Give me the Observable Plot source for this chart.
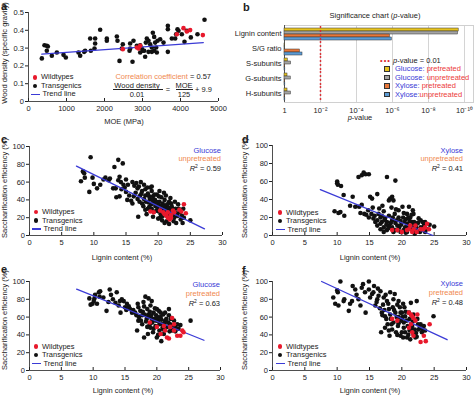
<!DOCTYPE html>
<html><head><meta charset="utf-8">
<script src="https://cdn.jsdelivr.net/npm/d3@7"></script>
<script src="https://cdn.jsdelivr.net/npm/@observablehq/plot@0.6"></script>
<style>
body{margin:0;background:#fff;font-family:"Liberation Sans",Arial,Helvetica,sans-serif;}
#root{position:relative;width:474px;height:395px;overflow:hidden;background:#fff;}
.abs{position:absolute;white-space:nowrap;font-size:7.5px;line-height:1;color:#222;}
svg{position:absolute;}
</style></head><body><div id="root"></div>
<script>
// ---------- DATA ----------
// panel a: MOE (MPa) vs wood density
const aTransgenics = [[351,0.242],[421,0.316],[482,0.313],[509,0.309],[482,0.285],[614,0.257],[746,0.275],[921,0.262],[982,0.247],[1316,0.275],[1360,0.257],[1465,0.279],[1491,0.285],[1623,0.354],[1640,0.285],[1754,0.354],[1754,0.326],[1737,0.298],[1886,0.403],[2061,0.354],[2061,0.341],[2325,0.365],[2342,0.341],[2395,0.228],[2456,0.298],[2482,0.322],[2675,0.326],[2675,0.298],[2658,0.285],[2737,0.223],[2763,0.341],[2851,0.313],[2895,0.303],[2939,0.316],[2982,0.298],[3009,0.285],[3044,0.285],[3070,0.251],[3088,0.331],[3114,0.354],[3158,0.341],[3202,0.322],[3246,0.303],[3246,0.279],[3272,0.386],[3307,0.363],[3333,0.331],[3307,0.285],[3360,0.303],[3377,0.275],[3395,0.341],[3465,0.350],[3553,0.331],[3667,0.425],[3667,0.406],[3667,0.279],[3772,0.354],[3886,0.378],[3921,0.406],[3947,0.397],[4035,0.378],[4105,0.335],[4167,0.397],[4272,0.360],[4447,0.378],[4632,0.459],[3860,0.354],[2939,0.275],[3158,0.279]];
const aWildtypes = [[2482,0.294],[2851,0.303],[2895,0.298],[2939,0.313],[3904,0.378],[4079,0.412],[4167,0.393],[4254,0.401],[4588,0.373]];
const aTrend = [[350,0.266],[4600,0.331]];
const aXTicks = [0,1000,2000,3000,4000,5000];
const aYTicks = [0,0.1,0.2,0.3,0.4,0.5];

// panel b: p-values
const bCategories = ["Lignin content","S/G ratio","S-subunits","G-subunits","H-subunits"];
const bSeries = ["Glucose: pretreated","Glucose: unpretreated","Xylose: pretreated","Xylose:unpretreated"];
const bColors = ["#e6c21f","#a3a3a3","#e8773a","#5b9bd5"];
const bGlucosePre   = [2.1e-10, 0.96, 0.66, 0.68, 0.68];
const bGlucoseUnpre = [2.3e-10, 0.96, 0.43, 0.45, 0.44];
const bXylosePre    = [1.4e-6, 0.14, 0.94, 0.93, 0.95];
const bXyloseUnpre  = [1.1e-6, 0.10, 0.90, 0.90, 0.90];
const bThreshold = 0.01;
const bTicks = [1,1e-2,1e-4,1e-6,1e-8,1e-10];

// panels c-f: lignin content vs saccharification efficiency
const cTransgenics = [[8.0,61],[8.3,72],[8.5,70],[8.6,65],[9.3,49],[9.5,88],[9.8,65],[10.0,58],[10.5,53],[11.5,63],[11.8,65],[12.3,62],[13.0,53],[13.2,77],[13.4,53],[13.5,43],[13.8,62],[13.8,85],[14.0,66],[14.2,60],[14.5,81],[14.3,52],[14.8,54],[14.6,57],[15.0,63],[15.0,49],[15.5,45],[15.2,40],[16.0,36],[16.3,56],[16.6,59],[16.8,53],[17.0,55],[17.2,45],[16.9,21],[17.5,50],[17.8,57],[18.0,45],[18.3,54],[18.5,37],[18.8,54],[19.0,50],[19.2,44],[18.0,29],[18.2,24],[18.6,32],[19.5,40],[19.8,46],[19.4,27],[20.0,35],[20.2,38],[20.5,43],[20.6,30],[20.8,25],[20.3,20],[21.0,40],[21.2,33],[21.5,28],[21.3,16],[21.8,24],[22.0,36],[22.2,30],[22.5,20],[22.8,14],[23.0,22],[23.2,30],[23.5,18],[23.8,14],[25.0,17],[24.0,20],[21.0,14],[20.0,19],[19.8,28],[17.5,36],[18.7,41],[19.3,36],[20.5,33],[21.7,38],[22.3,27],[20.7,22],[19.0,30],[17.8,41],[16.5,48],[15.8,39],[22.6,38],[21.9,42],[20.9,48],[19.6,33],[18.4,47],[23.4,26],
  [16.2,44],[16.8,41],[17.1,38],[17.4,47],[17.7,33],[18.1,38],[18.4,30],[18.9,35],[19.1,40],[19.4,46],[19.7,38],[19.9,31],[20.1,27],[20.4,24],[20.7,36],[20.9,33],[21.1,29],[21.4,35],[21.6,31],[21.9,28],[22.1,33],[22.4,24],[22.7,30],[22.9,25],[23.1,35],[23.7,22],[21.2,45],[20.2,50],[19.0,55],[18.0,52],[17.3,60],[16.0,60],[15.3,57],[14.0,44],[12.5,64],[11.0,57],[20.6,17],[19.2,21],[22.4,16],[21.7,13],[23.9,30],[20.1,44],[18.6,44]];
const cWildtypes = [[18.8,27],[19.3,26],[20.3,28],[21.0,24],[21.3,22],[21.5,20],[21.8,18],[22.0,23],[22.3,28],[22.5,26],[23.3,29],[23.6,27],[24.0,35],[24.3,25],[21.5,26],[20.8,26],[22.0,20]];
const cTrend = [[7.3,78],[27.2,7.5]];

const dTransgenics = [[9.6,27],[10.0,60],[10.0,58],[10.1,56.5],[10.2,25],[10.6,55],[11.0,45],[11.1,22],[10.5,26],[12.0,33],[12.4,43],[12.8,32],[13.3,65],[13.8,67],[14.1,70],[14.4,68],[14.9,68],[13.4,32],[13.6,25],[13.8,34],[14.2,24],[14.5,23],[14.9,20],[15.1,43],[15.4,41],[16.2,46],[15.6,19],[16.2,17],[16.7,20],[16.9,15],[17.2,27],[17.4,19],[17.7,65],[18.0,39],[18.2,41],[18.5,43],[19.0,61],[18.7,39],[18.0,22],[18.5,17],[19.0,14],[19.3,11],[19.5,20],[19.8,16],[20.1,32],[20.4,15],[20.5,9],[20.8,13],[21.1,32],[21.3,20],[21.6,15],[21.6,7],[21.8,11],[22.1,6],[22.3,13],[22.6,19],[22.9,9],[23.1,6],[23.4,11],[23.9,7],[25.0,10],[16.7,7],[17.2,4],[17.7,6],[18.0,11],[18.7,4],[19.3,6],[19.8,4],[20.3,6],[20.8,4],[18.5,9],[17.7,15],[16.7,13],[19.5,28],[20.8,24],[21.8,24],[22.9,17],[23.6,15],[17.2,9],[16.2,11],[15.9,15],
  [15.3,24],[15.8,22],[16.4,24],[16.9,22],[17.3,17],[17.6,12],[17.9,8],[18.3,14],[18.6,20],[18.9,24],[19.2,17],[19.6,9],[19.9,12],[20.2,20],[20.6,18],[20.9,10],[21.2,16],[21.5,23],[21.9,15],[22.2,9],[22.5,14],[22.8,4],[23.2,15],[23.6,4],[24.3,12],[19.1,29],[20.3,25],[21.7,28],[18.4,31],[17.0,33],[16.5,30],[14.8,28],[15.5,31],[20.6,3],[22.0,2],[21.0,20],[19.0,6]];
const dWildtypes = [[18.5,6],[19.3,6],[20.8,6],[21.3,11],[21.6,4],[21.8,7],[22.1,11],[22.3,4],[22.9,7],[23.3,7],[23.6,9],[23.9,13],[24.2,7],[21.1,7],[20.0,4]];
const dTrend = [[7.4,51],[24.8,0]];

const eTransgenics = [[9.4,81],[9.6,74],[9.9,75],[10.1,78],[10.2,81],[10.3,85],[10.6,75],[10.9,88],[11.0,83],[11.1,89],[12.1,67],[12.4,77],[12.6,91],[13.1,80],[13.5,76],[13.7,88],[14.0,73],[14.3,65],[14.5,80],[14.8,78],[15.0,71],[15.3,75],[15.8,69],[16.1,65],[16.6,65],[16.9,45],[17.1,71],[17.4,67],[17.7,62],[17.9,77],[18.0,37],[18.2,83],[18.4,58],[18.5,69],[18.6,41],[18.7,63],[18.9,52],[19.0,73],[19.2,58],[19.4,43],[19.5,65],[19.8,50],[19.9,62],[20.0,37],[20.2,56],[20.3,67],[20.4,45],[20.6,60],[20.7,33],[20.8,52],[21.0,63],[21.1,41],[21.3,56],[21.6,49],[21.9,62],[22.1,52],[22.4,45],[22.7,56],[22.9,49],[23.2,52],[23.7,51],[25.3,56],[17.1,56],[17.7,52],[18.5,49],[19.5,47],[20.0,69],[20.6,65],[21.3,65],[21.9,69],[19.2,78],[18.7,81],
  [16.3,68],[16.8,62],[17.2,60],[17.5,56],[17.8,66],[18.1,63],[18.3,55],[18.6,60],[18.9,66],[19.1,62],[19.3,54],[19.6,58],[19.9,56],[20.1,60],[20.4,52],[20.7,57],[20.9,48],[21.2,53],[21.5,58],[21.8,54],[22.0,44],[22.3,50],[22.6,47],[22.9,44],[23.4,47],[19.7,70],[18.0,72],[17.0,75],[15.6,72],[15.2,68],[14.2,78],[12.8,85],[11.6,82],[21.0,46],[20.2,40],[22.2,58],[19.0,48]];
const eWildtypes = [[18.9,54],[20.0,49],[21.1,50],[21.6,37],[21.9,36],[22.1,49],[22.4,59],[22.7,45],[23.2,39],[23.7,39],[24.0,45],[24.2,43],[21.3,45],[22.7,52],[20.6,41]];
const eTrend = [[7.4,91.4],[27.4,34]];

const fTransgenics = [[9.4,82],[9.7,75],[10.0,90],[10.1,88],[10.2,73],[10.5,100],[11.0,78],[11.1,80],[11.8,67],[12.3,78],[12.4,95],[12.8,91],[13.3,80],[13.6,73],[13.8,93],[14.0,97],[14.4,65],[14.9,100],[14.9,91],[15.1,82],[15.4,86],[15.6,88],[15.9,73],[16.2,80],[16.4,84],[16.7,89],[16.8,43],[16.9,65],[17.1,74],[17.2,82],[17.4,61],[17.7,78],[17.8,52],[18.0,69],[18.1,39],[18.2,88],[18.3,58],[18.5,46],[18.6,71],[18.7,54],[19.0,65],[19.1,43],[19.3,74],[19.4,50],[19.5,60],[19.7,71],[19.8,39],[19.9,56],[20.0,65],[20.2,37],[20.3,48],[20.4,71],[20.5,43],[20.7,56],[20.8,37],[21.1,65],[21.2,45],[21.4,76],[21.6,50],[21.8,63],[22.1,37],[22.3,78],[22.4,58],[22.6,46],[22.9,52],[23.1,43],[23.4,50],[24.9,61],[17.4,48],[18.0,45],[18.7,80],[19.5,78],[20.5,61],[21.8,41],[21.3,35],
  [16.1,77],[16.6,70],[17.0,62],[17.3,68],[17.6,58],[17.9,75],[18.2,63],[18.4,52],[18.8,68],[19.2,60],[19.5,53],[19.8,65],[20.1,60],[20.3,54],[20.6,66],[20.9,50],[21.2,58],[21.5,47],[21.7,55],[22.0,46],[22.2,42],[22.5,52],[22.8,48],[23.2,46],[23.6,45],[20.0,43],[19.3,40],[21.0,40],[22.3,38],[16.3,92],[15.7,95],[14.3,88],[13.0,85],[12.0,75],[18.9,86],[20.2,75],[17.5,85]];
const fWildtypes = [[18.5,58],[19.3,56],[21.1,65],[21.4,63],[21.6,61],[21.8,59],[21.4,52],[22.1,56],[21.1,48],[21.6,43],[21.8,39],[22.9,32],[23.7,33],[23.4,39],[24.3,52],[22.4,63]];
const fTrend = [[7.6,100],[27.0,34.6]];

const ligTicks = [0,5,10,15,20,25,30];
const sacTicks = [0,20,40,60,80,100];

// ---------- DRAW ----------
const FONT = '"Liberation Sans", Arial, Helvetica, sans-serif';
const root = document.getElementById("root");
const BLUE = "#3a3ad6", ORANGE = "#f0894f", RED = "#ec3a3a";

function place(svg, left, top) {
  svg.style.position = "absolute";
  svg.style.left = left + "px";
  svg.style.top = top + "px";
  root.appendChild(svg);
}
function txt(x, y, html, o = {}) {
  const d = document.createElement("div");
  d.className = "abs";
  d.innerHTML = html;
  const a = o.anchor || "start";
  const tx = a === "start" ? "0" : a === "middle" ? "-50%" : "-100%";
  d.style.left = x + "px"; d.style.top = y + "px";
  d.style.transform = `translate(${tx},-50%)` + (o.rotate ? ` rotate(${o.rotate}deg)` : "");
  if (o.size) d.style.fontSize = o.size + "px";
  if (o.weight) d.style.fontWeight = o.weight;
  if (o.color) d.style.color = o.color;
  root.appendChild(d);
  return d;
}
function box(x, y, w, h, css) {
  const d = document.createElement("div");
  d.style.position = "absolute";
  d.style.left = (x - w / 2) + "px"; d.style.top = (y - h / 2) + "px";
  d.style.width = w + "px"; d.style.height = h + "px";
  Object.assign(d.style, css);
  root.appendChild(d);
}

function scatter(c) {
  const svg = Plot.plot({
    width: c.width, height: c.height,
    marginLeft: c.mL, marginRight: c.mR, marginTop: c.mT, marginBottom: c.mB,
    style: {fontFamily: FONT, fontSize: "7.5px", color: "#222", background: "transparent", overflow: "visible"},
    x: {domain: c.xDomain, label: null},
    y: {domain: c.yDomain, label: null},
    marks: [
      Plot.ruleX([c.xDomain[0]], {stroke: "#222", strokeWidth: 0.8}),
      Plot.ruleY([c.yDomain[0]], {stroke: "#222", strokeWidth: 0.8}),
      Plot.axisX(c.xTicks, {tickSize: -3, tickPadding: 7, tickFormat: d => String(d), label: null}),
      Plot.axisY(c.yTicks, {tickSize: 3, tickPadding: 1.5, tickFormat: d => String(d), label: null}),
      Plot.dot(c.trans, {x: d => d[0], y: d => d[1], r: 2.3, fill: "#111"}),
      Plot.line(c.trend, {x: d => d[0], y: d => d[1], stroke: "#3b3bd6", strokeWidth: 1.3}),
      Plot.dot(c.wild, {x: d => d[0], y: d => d[1], r: 2.3, fill: "#e8192c"})
    ]
  });
  place(svg, c.left, c.top);
}

// panel a
scatter({left: 0, top: 0, width: 235, height: 130, mL: 28, mR: 17, mT: 12, mB: 29,
  xDomain: [0, 5000], xTicks: aXTicks, yDomain: [0, 0.5], yTicks: aYTicks,
  trans: aTransgenics, wild: aWildtypes, trend: aTrend});
// panel c
scatter({left: 0, top: 135, width: 235, height: 130, mL: 29, mR: 13, mT: 11, mB: 30,
  xDomain: [0, 30], xTicks: ligTicks, yDomain: [0, 100], yTicks: sacTicks,
  trans: cTransgenics, wild: cWildtypes, trend: cTrend});
// panel d
scatter({left: 240, top: 135, width: 234, height: 130, mL: 32, mR: 8, mT: 10, mB: 30,
  xDomain: [0, 30], xTicks: ligTicks, yDomain: [0, 100], yTicks: sacTicks,
  trans: dTransgenics, wild: dWildtypes, trend: dTrend});
// panel e
scatter({left: 0, top: 265, width: 235, height: 130, mL: 29, mR: 15, mT: 16, mB: 25,
  xDomain: [0, 30], xTicks: ligTicks, yDomain: [0, 100], yTicks: sacTicks,
  trans: eTransgenics, wild: eWildtypes, trend: eTrend});
// panel f
scatter({left: 240, top: 265, width: 234, height: 130, mL: 32, mR: 8, mT: 16, mB: 25,
  xDomain: [0, 30], xTicks: ligTicks, yDomain: [0, 100], yTicks: sacTicks,
  trans: fTransgenics, wild: fWildtypes, trend: fTrend});

// panel b
const supMap = {"-": "\u207B", "0": "\u2070", "1": "\u00B9", "2": "\u00B2", "3": "\u00B3", "4": "\u2074", "5": "\u2075", "6": "\u2076", "7": "\u2077", "8": "\u2078", "9": "\u2079"};
const logFmt = d => { const e = Math.round(Math.log10(d)); return e === 0 ? "1" : "10" + String(e).split("").map(ch => supMap[ch]).join(""); };
const bRows = [];
const bVals = [bGlucosePre, bGlucoseUnpre, bXylosePre, bXyloseUnpre];
bCategories.forEach((cat, i) => bSeries.forEach((s, j) => bRows.push({cat, series: s, p: bVals[j][i]})));
const bX = {type: "log", domain: [1, Math.pow(10, -10.5)]};
const bM = {width: 234, height: 135, marginLeft: 44, marginRight: 1, marginTop: 25, marginBottom: 33};
const bStyle = {fontFamily: FONT, fontSize: "7.5px", color: "#222", background: "transparent", overflow: "visible"};
const bBg = Plot.plot({
  ...bM, style: bStyle,
  x: {...bX, label: null},
  y: {domain: [0, 1], axis: null},
  marks: [
    Plot.gridX(bTicks, {stroke: "#d4d4d4", strokeOpacity: 1}),
    Plot.frame({stroke: "#d0d0d0"}),
    Plot.ruleX([1], {stroke: "#333", strokeWidth: 0.8}),
    Plot.axisX(bTicks, {tickSize: 0, tickPadding: 5, tickFormat: logFmt, label: null})
  ]
});
place(bBg, 240, 0);
const bFg = Plot.plot({
  ...bM, style: bStyle,
  x: {...bX, axis: null},
  y: {domain: bSeries, axis: null, padding: 0.08},
  fy: {domain: bCategories, padding: 0.12, label: null, axis: "left", tickSize: 0, tickPadding: 3},
  color: {domain: bSeries, range: bColors},
  marks: [
    Plot.barX(bRows, {fy: "cat", y: "series", x1: 1, x2: "p", fill: "series", stroke: "#333", strokeWidth: 0.5}),
    Plot.ruleX([bThreshold], {stroke: "#d9262b", strokeWidth: 1.8, strokeDasharray: "0,4", strokeLinecap: "round"})
  ]
});
place(bFg, 240, 0);

// ---------- TEXT ----------
// panel letters
txt(1, 5.5, "a", {size: 11, weight: "bold"});
txt(243, 6.5, "b", {size: 11, weight: "bold"});
txt(1, 138.5, "c", {size: 11, weight: "bold"});
txt(242, 139, "d", {size: 11, weight: "bold"});
txt(1, 268.5, "e", {size: 11, weight: "bold"});
txt(242, 270, "f", {size: 11, weight: "bold"});

// panel a texts
txt(5, 53, "Wood density (specific gravity)", {anchor: "middle", rotate: -90});
txt(124, 122, "MOE (MPa)", {anchor: "middle"});
function legend(x, y) {
  box(x, y, 4.6, 4.6, {borderRadius: "50%", background: "#e8192c"});
  txt(x + 6, y, "Wildtypes");
  box(x, y + 8.5, 4.6, 4.6, {borderRadius: "50%", background: "#111"});
  txt(x + 6, y + 8.5, "Transgenics");
  box(x, y + 17, 9, 1.3, {background: "#3b3bd6"});
  txt(x + 7.5, y + 17, "Trend line");
}
legend(35, 77.3);
txt(211, 77, `<span style="color:${ORANGE}">Correlation coefficient</span> = 0.57`, {anchor: "end"});
txt(137, 85.5, "Wood density", {anchor: "middle"});
box(138, 89.3, 50, 0.8, {background: "#222"});
txt(137, 95, "0.01", {anchor: "middle"});
txt(168, 89.5, "=", {anchor: "middle"});
txt(184, 85.5, "MOE", {anchor: "middle"});
box(184.5, 89.3, 17, 0.8, {background: "#222"});
txt(184, 95, "125", {anchor: "middle"});
txt(195, 89.5, "+ 9.9");

// panel b texts
txt(375, 16, "Significance chart (<i>p</i>-value)", {anchor: "middle"});
txt(360, 118, "<i>p</i>-value", {anchor: "middle"});
txt(380, 61, `<span style="color:#d9262b;letter-spacing:1px">\u2022\u2022\u2022</span> <i>p</i>-value = 0.01`);
const bLegendY = [69, 77.5, 86, 94.5];
const bLegendHtml = [
  `<span style="color:${BLUE}">Glucose:</span> <span style="color:${RED}">pretreated</span>`,
  `<span style="color:${BLUE}">Glucose:</span> <span style="color:${RED}">unpretreated</span>`,
  `<span style="color:${BLUE}">Xylose:</span> <span style="color:${RED}">pretreated</span>`,
  `<span style="color:${BLUE}">Xylose:</span><span style="color:${RED}">unpretreated</span>`
];
bSeries.forEach((s, i) => {
  box(387, bLegendY[i], 5.5, 5.5, {background: bColors[i], border: "0.8px solid #333", boxSizing: "border-box"});
  txt(395, bLegendY[i], bLegendHtml[i]);
});

// panels c-f texts
function sacText(ylx, yly, xlx, xly, lx, ly, rx, ry, sugar, treat, r2) {
  txt(ylx, yly, "Saccharification efficiency (%)", {anchor: "middle", rotate: -90});
  txt(xlx, xly, "Lignin content (%)", {anchor: "middle"});
  legend(lx, ly);
  txt(rx, ry, sugar, {anchor: "end", color: BLUE});
  txt(rx, ry + 8.5, treat, {anchor: "end", color: ORANGE});
  txt(rx, ry + 17.5, `<i>R</i><sup style="font-size:5px">2</sup> = ${r2}`, {anchor: "end"});
}
sacText(5, 188, 122, 258, 36, 212, 221, 150.7, "Glucose", "unpretreated", "0.59");
sacText(245, 188, 370, 258, 280, 212.7, 463, 150.7, "Xylose", "unpretreated", "0.41");
sacText(5, 320, 123, 391, 36, 346.7, 220, 285, "Glucose", "pretreated", "0.63");
sacText(245, 320, 370, 391, 280, 346.7, 463, 284.3, "Xylose", "pretreated", "0.48");
</script>
</body></html>
